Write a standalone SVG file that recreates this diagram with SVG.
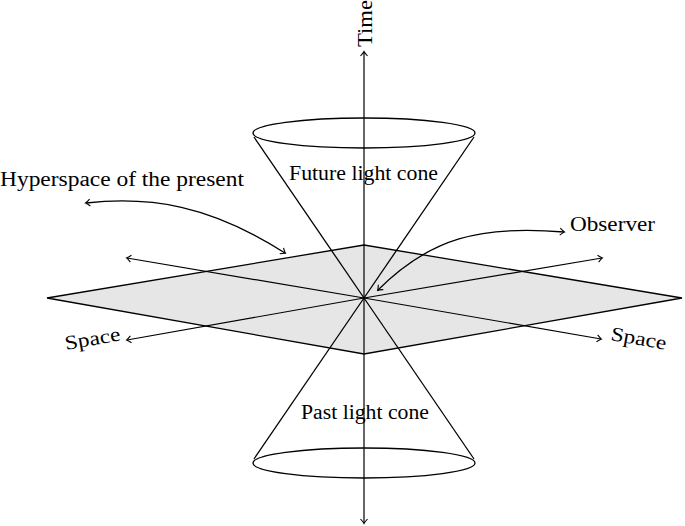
<svg xmlns="http://www.w3.org/2000/svg" width="685" height="526" viewBox="0 0 685 526">
<defs>
<style>
.ln{stroke:#000;stroke-width:1.3;fill:none}
.ax{stroke:#000;stroke-width:1.2;fill:none;marker-end:url(#ah)}
.tx{font-family:"Liberation Serif","DejaVu Serif",serif;font-size:20px;fill:#000}
</style>
<marker id="ah" viewBox="-5 -5 7 10" markerWidth="7" markerHeight="10" refX="0" refY="0" orient="auto" markerUnits="userSpaceOnUse">
<path d="M-4,-3.5 Q-1,-0.8 0.5,0 Q-1,0.8 -4,3.5" fill="none" stroke="#000" stroke-width="1.1"/>
</marker>
<marker id="ahs" viewBox="-5 -5 7 10" markerWidth="7" markerHeight="10" refX="0" refY="0" orient="auto-start-reverse" markerUnits="userSpaceOnUse">
<path d="M-4,-3.5 Q-1,-0.8 0.5,0 Q-1,0.8 -4,3.5" fill="none" stroke="#000" stroke-width="1.1"/>
</marker>
</defs>
<rect width="685" height="526" fill="#fff"/>
<g id="plane">
<polygon points="47,298 364,245 682,298 364,354" fill="#e6e6e6" stroke="#000" stroke-width="1.3"/>
</g>
<g id="connectors">
<line class="ax" x1="364" y1="298" x2="127" y2="258"/>
<line class="ax" x1="364" y1="298" x2="601" y2="339"/>
<line class="ax" x1="364" y1="298" x2="127" y2="340"/>
<line class="ax" x1="364" y1="298" x2="602" y2="258"/>
<line class="ax" x1="364" y1="298" x2="364" y2="52"/>
<line class="ax" x1="364" y1="298" x2="364" y2="523"/>
<path class="ln" d="M86,203 C150,196 210,205 285,253" marker-start="url(#ahs)" marker-end="url(#ah)"/>
<path class="ln" d="M378,290 C430,238 480,225 564,232" marker-start="url(#ahs)" marker-end="url(#ah)"/>
</g>
<g id="future-cone">
<ellipse cx="364" cy="133" rx="111" ry="15" class="ln"/>
<line class="ln" x1="254" y1="137" x2="364" y2="298"/>
<line class="ln" x1="474" y1="137" x2="364" y2="298"/>
<text class="tx" x="289" y="180" textLength="149" lengthAdjust="spacingAndGlyphs">Future light cone</text>
</g>
<g id="past-cone">
<ellipse cx="364" cy="463" rx="111" ry="15" class="ln"/>
<line class="ln" x1="254" y1="459" x2="364" y2="298"/>
<line class="ln" x1="474" y1="459" x2="364" y2="298"/>
<text class="tx" x="301" y="419" textLength="128" lengthAdjust="spacingAndGlyphs">Past light cone</text>
</g>
<g id="time-label">
<text class="tx" transform="translate(372,47) rotate(-90)" textLength="47" lengthAdjust="spacingAndGlyphs">Time</text>
</g>
<g id="hyperspace-label">
<text class="tx" x="0" y="186" textLength="244" lengthAdjust="spacingAndGlyphs">Hyperspace of the present</text>
</g>
<g id="observer-label">
<text class="tx" x="570" y="231" textLength="85" lengthAdjust="spacingAndGlyphs">Observer</text>
</g>
<g id="space-left">
<text class="tx" transform="translate(66,350) rotate(-10)" textLength="56" lengthAdjust="spacingAndGlyphs">Space</text>
</g>
<g id="space-right">
<text class="tx" transform="translate(610,340) rotate(10)" textLength="56" lengthAdjust="spacingAndGlyphs">Space</text>
</g>
</svg>
